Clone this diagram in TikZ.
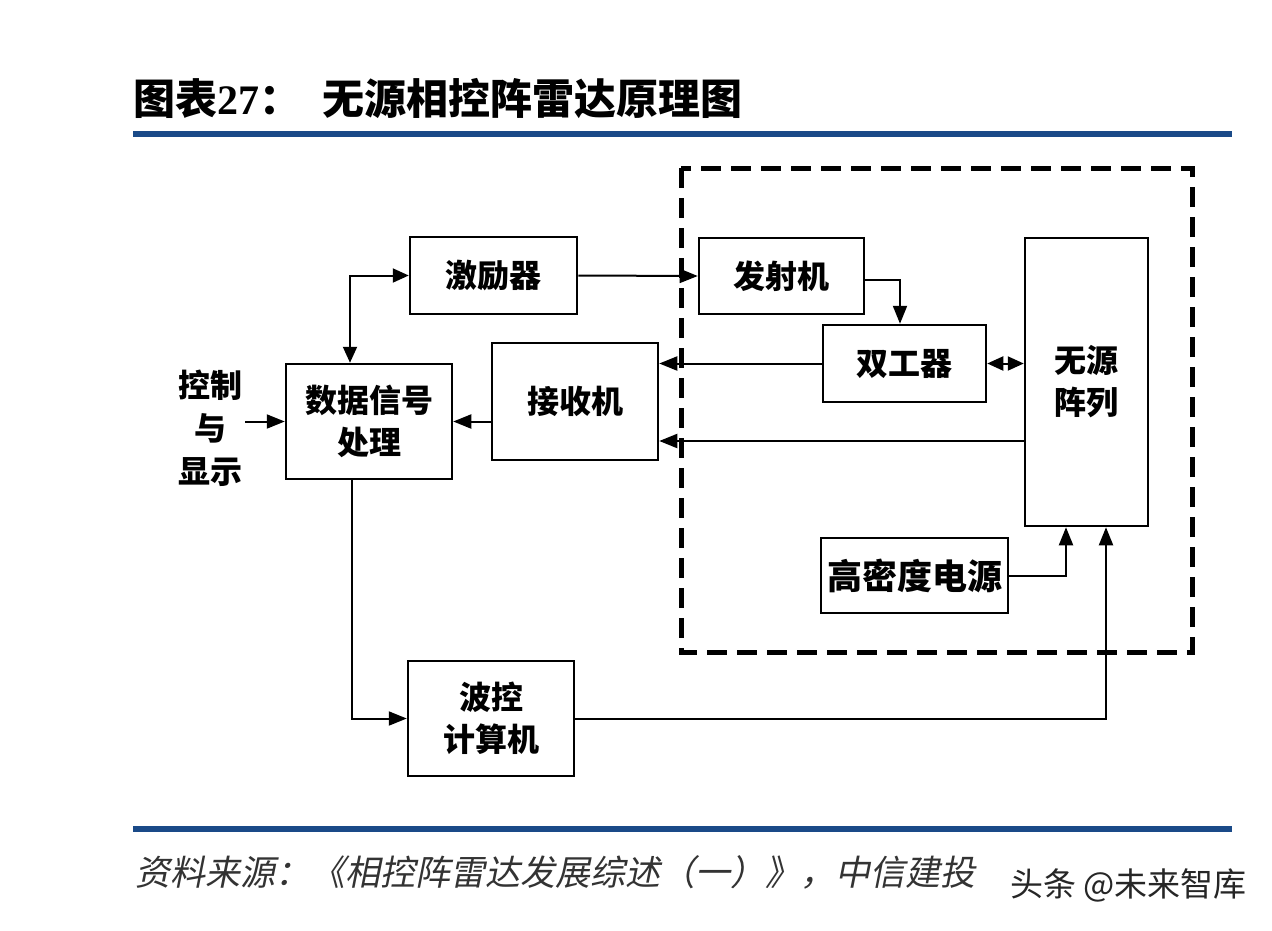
\documentclass[tikz,border=0pt]{standalone}
\usepackage{fontspec}
\setmainfont{Noto Sans CJK SC}
\newfontfamily\serifbold{Liberation Serif Bold}
\newfontfamily\slantcjk[FakeSlant=0.2]{Noto Sans CJK SC}
\usetikzlibrary{arrows.meta}
\definecolor{rulebl}{RGB}{26,74,136}
\begin{document}
\begin{tikzpicture}[x=1pt,y=-1pt,
  box/.style={draw,line width=2.5pt,inner sep=0pt,align=center,
    font=\fontsize{32}{42}\selectfont\bfseries},
  arr/.style={line width=2pt,-{Triangle[length=18pt,width=14pt]}},
  darr/.style={line width=2pt,{Triangle[length=16pt,width=14pt]}-{Triangle[length=16pt,width=14pt]}},
  frame/.style={line width=5pt,dash pattern=on 20pt off 10pt}]
\fill[white] (0,0) rectangle (1272,930);
\useasboundingbox (0,0) rectangle (1272,930);
% title
\node[anchor=west,inner sep=0pt,font=\fontsize{42}{42}\selectfont\bfseries] (title) at (133,99)
  {图表{\serifbold 27}：};
\node[anchor=west,inner sep=0pt,font=\fontsize{42}{42}\selectfont\bfseries] (subtitle) at (322,99)
  {无源相控阵雷达原理图};
\fill[rulebl] (133,131) rectangle (1232,137);
\fill[rulebl] (133,826) rectangle (1232,832);
% dashed frame
\draw[frame] (681,168) rectangle (1192,652);
% boxes
\node[box,minimum width=167pt,minimum height=77pt] (jili) at (493.5,275.5) {激励器};
\node[box,minimum width=165pt,minimum height=76pt] (fashe) at (781.5,276) {发射机};
\node[box,minimum width=163pt,minimum height=77pt] (shuang) at (904.5,363.5) {双工器};
\node[box,minimum width=123pt,minimum height=288pt] (zhenlie) at (1086.5,382) {无源\\阵列};
\node[box,minimum width=166pt,minimum height=117pt] (jieshou) at (575,401.5) {接收机};
\node[box,minimum width=166pt,minimum height=115pt] (shuju) at (369,421.5) {数据信号\\处理};
\node[box,minimum width=187pt,minimum height=75pt,font=\fontsize{35}{42}\selectfont\bfseries] (dianyuan) at (914.5,575.5) {高密度电源};
\node[box,minimum width=166pt,minimum height=115pt] (bokong) at (491,718.5) {波控\\计算机};
\node[inner sep=0pt,align=center,font=\fontsize{32}{43}\selectfont\bfseries] (ctrl) at (210,428) {控制\\与\\显示};
% connectors
\draw[arr] (jili.east) -- (fashe.west);
\draw[arr] ([yshift=-4pt]fashe.east) -| ([xshift=-4.5pt]shuang.north);
\draw[darr] (shuang.east) -- (shuang.east -| zhenlie.west);
\draw[arr] (shuang.west) -- (shuang.west -| jieshou.east);
\coordinate (zr) at ([yshift=-59pt]zhenlie.west);
\draw[arr] (zr) -- (zr -| jieshou.east);
\draw[arr] (shuju.east -| jieshou.west) -- (shuju.east);
\draw[darr] (jili.west) -| ([xshift=-19pt]shuju.north);
\draw[arr] ([xshift=3pt]ctrl.east |- shuju.west) -- (shuju.west);
\draw[arr] ([xshift=-17pt]shuju.south) |- (bokong.west);
\draw[arr] (bokong.east) -| ([xshift=19.5pt]zhenlie.south);
\draw[arr] (dianyuan.east) -| ([xshift=-20.5pt]zhenlie.south);
% footer
\node[anchor=west,inner sep=0pt,text=black!80,font=\fontsize{35}{35}\selectfont\slantcjk] (src) at (135,872)
  {资料来源：《相控阵雷达发展综述（一）》，中信建投};
\node[anchor=west,inner sep=0pt,text=black!85,font=\fontsize{33}{33}\selectfont] (wm) at (1010,885)
  {头条 @未来智库};
\end{tikzpicture}
\end{document}
